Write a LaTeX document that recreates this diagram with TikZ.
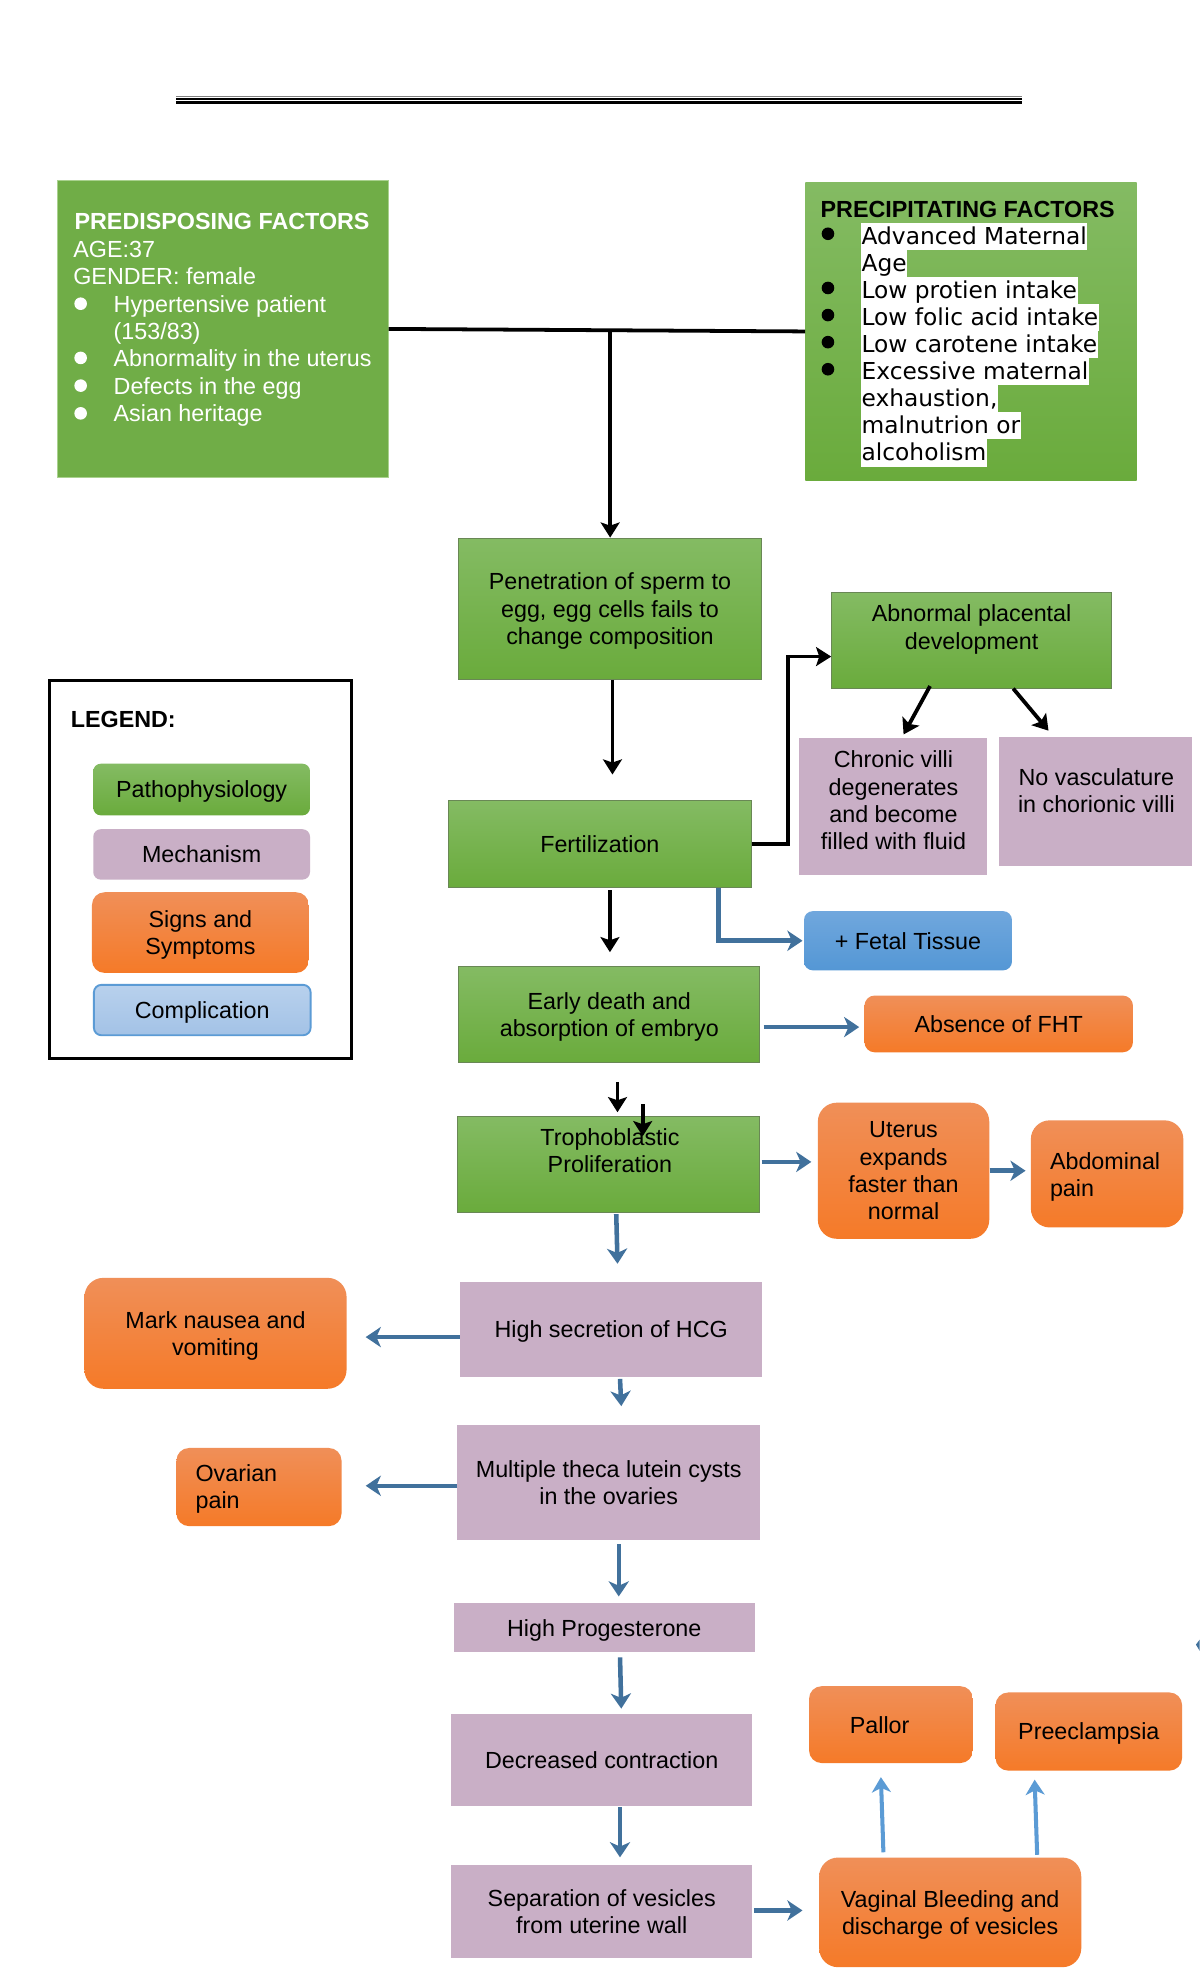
\documentclass[tikz,border=0pt]{standalone}
\usepackage{fontspec}
\setmainfont{Liberation Sans}
\newfontfamily\dvs{DejaVu Sans}
\usetikzlibrary{arrows.meta,calc}
\newcommand{\myfs}{\fontsize{18.5}{21.6}\selectfont}
\definecolor{gT}{RGB}{132,187,99}
\definecolor{gB}{RGB}{106,171,60}
\definecolor{gSolid}{RGB}{112,173,71}
\definecolor{gLight}{RGB}{169,209,142}
\definecolor{gbord}{RGB}{105,135,85}
\definecolor{mauve}{RGB}{201,175,198}
\definecolor{oT}{RGB}{240,143,88}
\definecolor{oB}{RGB}{245,122,40}
\definecolor{fT}{RGB}{112,167,221}
\definecolor{fB}{RGB}{84,151,213}
\definecolor{cT}{RGB}{184,209,237}
\definecolor{cB}{RGB}{163,194,230}
\definecolor{cD}{RGB}{91,155,213}
\definecolor{steel}{RGB}{65,113,156}
\definecolor{lblue}{RGB}{91,155,213}
\begin{document}
\begin{tikzpicture}[x=1pt,y=-1pt,
  bx/.style={inner sep=0pt, font=\myfs, align=center, text depth=0pt},
  gbx/.style={bx, draw=gbord, line width=0.8pt, top color=gT, bottom color=gB},
  mbx/.style={bx, fill=mauve},
  obx/.style={bx, rounded corners=#1, top color=oT, bottom color=oB},
  obx/.default=12pt,
  txt/.style={inner sep=0pt, font=\myfs, align=center, text depth=0pt},
  wtxt/.style={txt, text=white, anchor=west},
  hl/.style={font=\dvs\fontsize{18.5}{21.6}\selectfont, fill=white, inner xsep=0.5pt, inner ysep=0pt, text height=17pt, text depth=4.5pt, anchor=west},
  blk/.style={draw=black, line width=3pt, -{Stealth[length=12pt,width=15pt,inset=2.5pt]}},
  stl/.style={draw=steel, line width=3.6pt, -{Stealth[length=12pt,width=16pt,inset=3.5pt]}},
  lbl/.style={draw=lblue, line width=3.2pt, -{Stealth[length=12pt,width=15pt,inset=3.5pt]}}
]
\useasboundingbox (0,0) rectangle (952,1568);
\fill[white] (0,0) rectangle (952,1568);

% top rule
\draw[gray, line width=0.6pt] (140,76.8) -- (811,76.8);
\draw[black, line width=1.4pt] (140,78.8) -- (811,78.8);
\draw[black, line width=2pt] (140,81.5) -- (811,81.5);

% predisposing factors
\node[draw=gLight, line width=0.8pt, fill=gSolid, minimum width=262pt, minimum height=236pt, inner sep=0pt] (pre) at (177,261) {};
\node[wtxt, font=\myfs\bfseries] (preH) at (59,176) {PREDISPOSING FACTORS};
\node[wtxt] (pre1) at (58,198) {AGE:37};
\node[wtxt] (pre2) at (58,219) {GENDER: female};
\node[wtxt] (pre3) at (90,241) {Hypertensive patient};
\node[wtxt] (pre4) at (90,263) {(153/83)};
\node[wtxt] (pre5) at (90,284) {Abnormality in the uterus};
\node[wtxt] (pre6) at (90,306) {Defects in the egg};
\node[wtxt] (pre7) at (90,328) {Asian heritage};
\foreach \y in {241,284,306,328} \fill[white] (64,\y) circle (5pt);

% precipitating factors
\node[top color=gT, bottom color=gB, minimum width=263pt, minimum height=236pt, inner sep=0pt] (prc) at (770.5,263) {};
\node[txt, font=\myfs\bfseries, anchor=west] (prcH) at (651,166) {PRECIPITATING FACTORS};
\node[hl] (prc1) at (683,187.5) {Advanced Maternal};
\node[hl] (prc2) at (683,209) {Age};
\node[hl] (prc3) at (683,230.5) {Low protien intake};
\node[hl] (prc4) at (683,252) {Low folic acid intake};
\node[hl] (prc5) at (683,273.5) {Low carotene intake};
\node[hl] (prc6) at (683,295) {Excessive maternal};
\node[hl] (prc7) at (683,316.5) {exhaustion,};
\node[hl] (prc8) at (683,338) {malnutrion or};
\node[hl] (prc9) at (683,359.5) {alcoholism};
\foreach \y in {187.5,230.5,252,273.5,295} \fill[black] (657,\y-2) circle (5pt);

% main chain
\node[gbx, minimum width=240pt, minimum height=112pt] (pen) at (484,483) {Penetration of sperm to\\egg, egg cells fails to\\change composition};
\node[gbx, minimum width=240pt, minimum height=69pt] (fert) at (476,669.5) {Fertilization};
\node[gbx, minimum width=222pt, minimum height=76pt] (abn) at (771,508) {};
\node[txt] (abnT) at (771,497.5) {Abnormal placental\\development};
\node[mbx, minimum width=149pt, minimum height=108pt] (chr) at (708.5,640) {};
\node[txt] (chrT) at (709,635) {Chronic villi\\degenerates\\and become\\filled with fluid};
\node[mbx, minimum width=153pt, minimum height=102pt] (nov) at (869.5,636) {};
\node[txt] (novT) at (870,627.5) {No vasculature\\in chorionic villi};
\node[bx, rounded corners=7pt, top color=fT, bottom color=fB, minimum width=165pt, minimum height=47pt] (fet) at (720.5,746.5) {+ Fetal Tissue};
\node[gbx, minimum width=239pt, minimum height=76pt] (early) at (483.5,805) {Early death and\\absorption of embryo};
\node[obx=8pt, minimum width=213pt, minimum height=45pt] (fht) at (792.5,812.5) {Absence of FHT};
\node[gbx, minimum width=240pt, minimum height=76pt] (troph) at (483,924) {};
\node[txt] (trophT) at (484,913) {Trophoblastic\\Proliferation};
\node[obx=15pt, minimum width=136pt, minimum height=108pt] (ut) at (717,929) {Uterus\\expands\\faster than\\normal};
\node[obx=15pt, minimum width=121pt, minimum height=85pt] (abd) at (878.5,931.5) {};
\node[txt, align=left, anchor=west] (abdT) at (833,932) {Abdominal\\pain};
\node[mbx, minimum width=240pt, minimum height=76pt] (hcg) at (485,1055) {High secretion of HCG};
\node[obx=15pt, minimum width=208pt, minimum height=88pt] (naus) at (171,1058) {Mark nausea and\\vomiting};
\node[mbx, minimum width=240pt, minimum height=91pt] (mult) at (483,1176.5) {Multiple theca lutein cysts\\in the ovaries};
\node[obx=10pt, minimum width=131pt, minimum height=62pt] (ovar) at (205.5,1180) {};
\node[txt, align=left, anchor=west] (ovarT) at (155,1179.5) {Ovarian\\pain};
\node[mbx, minimum width=239pt, minimum height=39pt] (prog) at (479.5,1291.5) {High Progesterone};
\node[mbx, minimum width=239pt, minimum height=73pt] (dec) at (477.5,1396.5) {Decreased contraction};
\node[mbx, minimum width=239pt, minimum height=74pt] (sep) at (477.5,1517) {Separation of vesicles\\from uterine wall};
\node[obx=15pt, minimum width=208pt, minimum height=87pt] (vag) at (754,1517.5) {Vaginal Bleeding and\\discharge of vesicles};
\node[obx=10pt, minimum width=130pt, minimum height=61pt] (pal) at (707,1368.5) {};
\node[txt] (palT) at (698,1369) {Pallor};
\node[obx=10pt, minimum width=148pt, minimum height=62pt] (prec) at (864,1374) {Preeclampsia};

% legend
\node[draw=black, line width=2.5pt, minimum width=240pt, minimum height=300pt, inner sep=0pt] (leg) at (159,690) {};
\node[txt, font=\myfs\bfseries, anchor=west] (legT) at (56,571) {LEGEND:};
\node[bx, rounded corners=6pt, top color=gT, bottom color=gB, minimum width=172pt, minimum height=41pt] (lg1) at (160,626.5) {Pathophysiology};
\node[mbx, rounded corners=6pt, minimum width=172pt, minimum height=40pt] (lg2) at (160,678) {Mechanism};
\node[obx=10pt, minimum width=172pt, minimum height=64pt] (lg3) at (159,740) {Signs and\\Symptoms};
\node[bx, rounded corners=6pt, draw=cD, line width=1.5pt, top color=cT, bottom color=cB, minimum width=172pt, minimum height=40pt] (lg4) at (160.5,801.5) {Complication};

% black connectors
\coordinate (J) at ($(pre.east)!0.532!(prc.west)$);
\draw[black, line width=3pt] (pre.east) -- (prc.west);
\draw[blk] (J) -- (J |- pen.north);
\draw[blk] ([xshift=2pt]pen.south) -- ([xshift=10pt,yshift=20pt]fert.north);
\draw[blk] (fert.east) -- ++(29,0) |- ([yshift=-13pt]abn.west);
\draw[blk] ([xshift=-33pt,yshift=2pt]abn.south) -- ([xshift=8.5pt,yshift=3pt]chr.north);
\draw[blk] ([xshift=33pt]abn.south) -- ([xshift=-37.5pt,yshift=5pt]nov.north);
\draw[blk] ([xshift=8pt,yshift=-2pt]fert.south) -- ([xshift=0.5pt,yshift=11pt]early.north);
\draw[blk] ([xshift=6.5pt,yshift=-15pt]early.south) -- ([xshift=7pt,yshift=3pt]troph.north);
\draw[blk] ([xshift=26.5pt,yshift=-33pt]early.south) -- ([xshift=27pt,yshift=-16pt]troph.north);

% blue connectors
\draw[stl] ([xshift=94pt]fert.south) |- ([xshift=-1pt]fet.west);
\draw[stl] ([xshift=2.5pt,yshift=-10pt]early.east) -- ([xshift=-4pt,yshift=-2.5pt]fht.west);
\draw[stl] ([xshift=1pt,yshift=2pt]troph.east) -- ([xshift=-5pt,yshift=7pt]ut.west);
\draw[stl] (ut.east) -- ([xshift=-4pt,yshift=2.5pt]abd.west);
\draw[stl] ([xshift=6pt,yshift=-1pt]troph.south) -- ([xshift=5pt,yshift=14pt]hcg.north);
\draw[stl] ([yshift=-6pt]hcg.west) -- ([xshift=15pt,yshift=-3pt]naus.east);
\draw[stl] ([xshift=7pt,yshift=-1pt]hcg.south) -- ([xshift=10pt,yshift=15pt]mult.north);
\draw[stl] ([yshift=-2.5pt]mult.west) -- ([xshift=19pt,yshift=1pt]ovar.east);
\draw[stl] ([xshift=8pt,yshift=-3pt]mult.south) -- ([xshift=11.5pt,yshift=5pt]prog.north);
\draw[stl] ([xshift=12.5pt,yshift=-4pt]prog.south) -- ([xshift=15.5pt,yshift=4pt]dec.north);
\draw[stl] ([xshift=14.5pt,yshift=-1pt]dec.south) -- ([xshift=14.5pt,yshift=6pt]sep.north);
\draw[stl] ([xshift=1pt,yshift=1pt]sep.east) -- ([xshift=-13pt,yshift=1.5pt]vag.west);
\draw[lbl] ([xshift=-53pt,yshift=4pt]vag.north) -- ([xshift=-8pt,yshift=-11pt]pal.south);
\draw[lbl] ([xshift=69pt,yshift=2pt]vag.north) -- ([xshift=-43pt,yshift=-7pt]prec.south);

% cut-off mark at right edge
\fill[steel] (949,1305) -- (952,1301) -- (952,1310) -- cycle;
\end{tikzpicture}
\end{document}
